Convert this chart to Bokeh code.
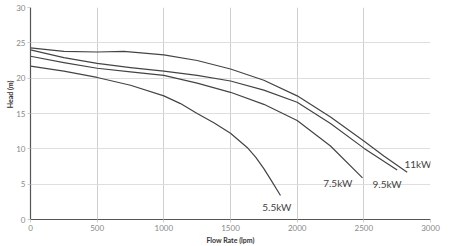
from bokeh.plotting import figure
from bokeh.models import Label, Range1d, FixedTicker, Title
from bokeh.embed import file_html
from bokeh.resources import INLINE

x_11 = [0, 250, 500, 700, 1000, 1250, 1500, 1750, 2000, 2250, 2500, 2650, 2825]
y_11 = [24.3, 23.8, 23.7, 23.8, 23.3, 22.5, 21.3, 19.7, 17.5, 14.5, 11.1, 9.0, 6.7]

x_95 = [0, 250, 500, 750, 1000, 1250, 1500, 1750, 2000, 2250, 2500, 2750]
y_95 = [24.0, 22.9, 22.1, 21.5, 21.0, 20.4, 19.6, 18.3, 16.6, 13.6, 10.1, 7.0]

x_75 = [0, 250, 500, 750, 1000, 1250, 1500, 1750, 2000, 2250, 2490]
y_75 = [23.1, 22.2, 21.4, 20.9, 20.4, 19.3, 18.0, 16.3, 14.0, 10.4, 5.9]

x_55 = [0, 250, 500, 750, 1000, 1125, 1250, 1375, 1500, 1625, 1690, 1750, 1810, 1875]
y_55 = [21.7, 21.0, 20.1, 19.0, 17.5, 16.4, 15.0, 13.7, 12.2, 10.2, 8.8, 7.2, 5.4, 3.4]

series = [(x_11, y_11), (x_95, y_95), (x_75, y_75), (x_55, y_55)]
label_text = ["11kW", "9.5kW", "7.5kW", "5.5kW"]
label_x = [2805, 2565, 2195, 1738]
label_y = [7.9, 5.0, 5.2, 1.7]

x_ticks = [0, 500, 1000, 1500, 2000, 2500, 3000]
y_ticks = [0, 5, 10, 15, 20, 25, 30]

FONT = "Lato"

p = figure(width=450, height=246, output_backend="svg", toolbar_location=None,
           x_range=Range1d(0, 3000), y_range=Range1d(0, 30),
           min_border_left=30, min_border_right=20, min_border_top=7, min_border_bottom=23)
p.outline_line_color = None
p.background_fill_color = "white"

for ax in (p.xaxis, p.yaxis):
    ax.axis_line_color = "#555555"
    ax.axis_line_width = 1.2
    ax.major_tick_in = 0
    ax.major_tick_out = 3
    ax.major_tick_line_color = "#cccccc"
    ax.minor_tick_line_color = None
    ax.major_label_text_color = "#888888"
    ax.major_label_text_font = FONT
    ax.major_label_text_font_size = "8px"

p.xaxis.ticker = FixedTicker(ticks=x_ticks)
p.yaxis.ticker = FixedTicker(ticks=y_ticks)
p.xaxis.major_label_standoff = 2
p.yaxis.major_label_standoff = 2
p.xaxis.axis_label = "Flow Rate (lpm)"
p.xaxis.axis_label_text_font = FONT
p.xaxis.axis_label_text_font_style = "bold"
p.xaxis.axis_label_text_font_size = "7px"
p.xaxis.axis_label_text_color = "#333333"
p.xaxis.axis_label_standoff = 2

p.xgrid.grid_line_color = "#cfcfcf"
p.ygrid.grid_line_color = "#dedede"
p.xgrid.ticker = FixedTicker(ticks=x_ticks)
p.ygrid.ticker = FixedTicker(ticks=y_ticks)

for xs, ys in series:
    p.line(xs, ys, line_color="#444444", line_width=1.2, line_join="round")

for t, lx, ly in zip(label_text, label_x, label_y):
    p.add_layout(Label(x=lx, y=ly, text=t, text_font=FONT, text_font_size="10px",
                       text_color="#444444", text_baseline="alphabetic"))

p.add_layout(Title(text="Head (m)", align="right", offset=73, text_font=FONT,
                   text_font_style="bold", text_font_size="7px", text_color="#333333",
                   standoff=0), "left")

open("out.html", "w").write(file_html(p, INLINE))
